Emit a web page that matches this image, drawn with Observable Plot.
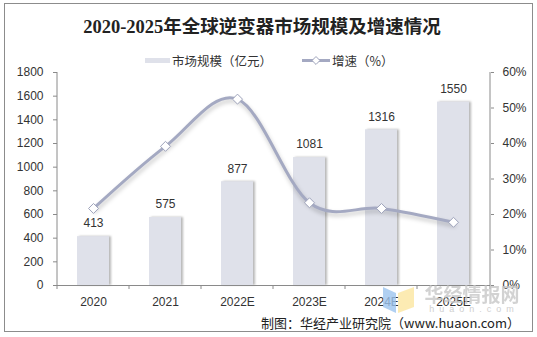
<!DOCTYPE html>
<html>
<head>
<meta charset="utf-8">
<script src="https://cdn.jsdelivr.net/npm/d3@7"></script>
<script src="https://cdn.jsdelivr.net/npm/@observablehq/plot@0.6"></script>
<style>
  html, body { margin: 0; padding: 0; background: #fff; }
  #chart svg { display: block; }
</style>
</head>
<body>
<div id="chart"></div>
<script>
const title = "2020-2025年全球逆变器市场规模及增速情况";
const caption = "制图：华经产业研究院（www.huaon.com）";
const years = ["2020", "2021", "2022E", "2023E", "2024E", "2025E"];
const marketSize = [413, 575, 877, 1081, 1316, 1550];
const growthRate = [21.7, 39.2, 52.5, 23.3, 21.7, 17.8];
const leftTicks = [0, 200, 400, 600, 800, 1000, 1200, 1400, 1600, 1800];
const rightTicks = [0, 10, 20, 30, 40, 50, 60];
const seriesNames = ["市场规模（亿元）", "增速（%）"];

const ratio = 1800 / 60; // right axis 60% maps to 1800
const data = years.map((y, i) => ({year: y, size: marketSize[i], rate: growthRate[i]}));

const barColor = "#dfe1ea";
const lineColor = "#a4a9c2";
const axisColor = "#8a8a8a";
const textColor = "#333";
const numFont = "'Liberation Sans', Arial, 'Noto Sans CJK SC', sans-serif";
const cjkFont = "'Noto Sans CJK SC', 'Liberation Sans', sans-serif";

const plot = Plot.plot({
  width: 537,
  height: 337,
  marginTop: 72,
  marginBottom: 52,
  marginLeft: 57,
  marginRight: 47,
  style: {fontFamily: numFont, fontSize: "12px", color: textColor, background: "#fff"},
  x: {domain: years, paddingInner: 0.55, paddingOuter: 0.275, label: null},
  y: {domain: [0, 1800], label: null},
  marks: [
    Plot.barY(data, {x: "year", y: "size", fill: barColor, className: "bars"}),
    Plot.text(data, {x: "year", y: "size", text: d => String(d.size), dy: -13, fill: textColor, fontSize: 12}),
    Plot.line(data, {x: "year", y: d => d.rate * ratio, stroke: lineColor, strokeWidth: 3, curve: "cardinal", className: "rateline"}),
    Plot.dot(data, {x: "year", y: d => d.rate * ratio, symbol: "diamond2", r: 4.5, fill: "#fff", stroke: "#9ea3bb", strokeWidth: 1, className: "ratedots"}),
    Plot.ruleY([0], {stroke: axisColor}),
    Plot.axisY(leftTicks, {anchor: "left", tickSize: 4, tickPadding: 10, tickFormat: d => String(d), stroke: axisColor, fill: textColor, fontSize: 12, label: null}),
    Plot.axisY(rightTicks.map(v => v * ratio), {anchor: "right", tickSize: 3, tickPadding: 9, tickFormat: d => (d / ratio) + "%", stroke: axisColor, fill: textColor, fontSize: 12, label: null}),
    Plot.axisX({tickSize: 0, tickPadding: 12, fill: textColor, fontSize: 12, label: null})
  ]
});

document.getElementById("chart").appendChild(plot);

const svg = d3.select(plot);
const xs = plot.scale("x");
const ys = plot.scale("y");
const [x0, x1] = xs.range;
const y0 = ys.apply(0), yTop = ys.apply(1800);

// shadows
svg.select(".bars").style("filter", "drop-shadow(2px 0px 1px rgba(0,0,0,0.28))");
svg.select(".rateline").style("filter", "drop-shadow(1px 3px 2px rgba(0,0,0,0.22))");

// axis lines left/right and boundary ticks
svg.append("line").attr("x1", x0).attr("x2", x0).attr("y1", yTop).attr("y2", y0).attr("stroke", axisColor);
svg.append("line").attr("x1", x1).attr("x2", x1).attr("y1", yTop).attr("y2", y0).attr("stroke", axisColor);
const step = xs.step;
years.forEach((y) => {
  const bx = xs.apply(y) - (step - xs.bandwidth) / 2;
  svg.append("line").attr("x1", bx).attr("x2", bx).attr("y1", y0).attr("y2", y0 + 4).attr("stroke", axisColor);
});
svg.append("line").attr("x1", x1).attr("x2", x1).attr("y1", y0).attr("y2", y0 + 4).attr("stroke", axisColor);

// outer frame
svg.append("rect").attr("x", 4.5).attr("y", 3.5).attr("width", 528).attr("height", 328)
  .attr("fill", "none").attr("stroke", "#8c8c8c");

// title
svg.append("text").attr("x", 262).attr("y", 27).attr("text-anchor", "middle").attr("dominant-baseline", "central")
  .style("font-family", "'Liberation Serif', 'Noto Sans CJK SC', serif").style("font-weight", "bold")
  .style("font-size", "18.5px").attr("fill", "#222").text(title);

// legend
const lg = svg.append("g").style("font-family", cjkFont).style("font-size", "12.5px").attr("text-anchor", "start");
lg.append("rect").attr("x", 145).attr("y", 58).attr("width", 25).attr("height", 5).attr("fill", barColor);
lg.append("text").attr("x", 172).attr("y", 60.5).attr("text-anchor", "start").attr("dominant-baseline", "central").attr("fill", textColor).text(seriesNames[0]);
lg.append("line").attr("x1", 302).attr("x2", 330).attr("y1", 60.5).attr("y2", 60.5).attr("stroke", lineColor).attr("stroke-width", 3);
lg.append("path").attr("d", d3.symbol(d3.symbolDiamond2, 40)()).attr("transform", "translate(316,60.5)")
  .attr("fill", "#fff").attr("stroke", "#9ea3bb");
lg.append("text").attr("x", 332).attr("y", 60.5).attr("text-anchor", "start").attr("dominant-baseline", "central").attr("fill", textColor).text(seriesNames[1]);

// watermark
svg.append("path").attr("d", "M383,287 L396,293 L396,313 L383,307 Z").attr("fill", "#9cc4ef").attr("opacity", 0.8);
svg.append("path").attr("d", "M398,293 L414,287 L414,307 L398,313 Z").attr("fill", "#fbe6a0").attr("opacity", 0.8);
svg.append("text").attr("x", 472).attr("y", 293).attr("text-anchor", "middle").attr("dominant-baseline", "central")
  .style("font-family", cjkFont).style("font-weight", "bold").style("font-size", "19px")
  .attr("fill", "#c8c8c8").attr("opacity", 0.8).text("华经情报网");
svg.append("text").attr("x", 474).attr("y", 309).attr("text-anchor", "middle").attr("dominant-baseline", "central")
  .style("font-family", numFont).style("font-size", "9px").style("letter-spacing", "5px")
  .attr("fill", "#cfcfcf").text("huaon.com");

// caption
svg.append("text").attr("x", 520).attr("y", 322).attr("text-anchor", "end").attr("dominant-baseline", "central")
  .style("font-family", cjkFont).style("font-size", "13px").attr("fill", "#222").text(caption);
</script>
</body>
</html>
